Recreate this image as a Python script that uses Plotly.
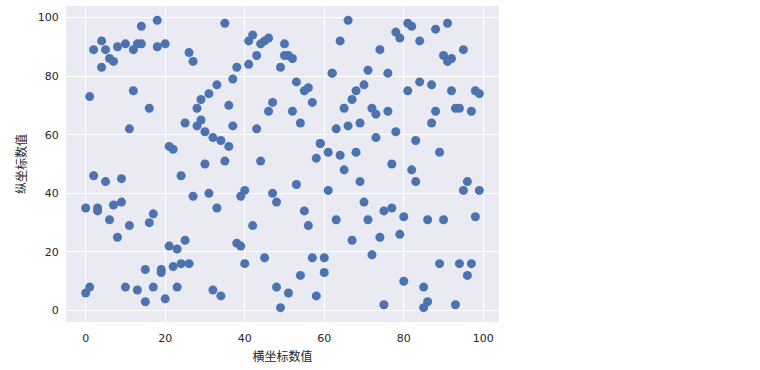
import plotly.graph_objects as go

x_values = list(range(100))
y_first = [35, 73, 89, 35, 92, 89, 86, 85, 90, 45,
           91, 62, 89, 91, 97, 14, 69, 33, 99, 14,
           91, 56, 55, 21, 46, 64, 88, 85, 69, 72,
           61, 74, 59, 77, 58, 98, 70, 79, 83, 39,
           41, 92, 94, 87, 91, 92, 93, 71, 37, 83,
           91, 87, 86, 78, 64, 75, 76, 71, 52, 57,
           18, 54, 81, 62, 92, 69, 99, 72, 75, 64,
           77, 82, 69, 67, 89, 34, 81, 50, 95, 93,
           32, 98, 97, 58, 92, 8, 31, 77, 96, 54,
           87, 98, 86, 69, 69, 89, 44, 68, 75, 74]
y_second = [6, 8, 46, 34, 83, 44, 31, 36, 25, 37,
            8, 29, 75, 7, 91, 3, 30, 8, 90, 13,
            4, 22, 15, 8, 16, 24, 16, 39, 63, 65,
            50, 40, 7, 35, 5, 51, 56, 63, 23, 22,
            16, 84, 29, 62, 51, 18, 68, 40, 8, 1,
            87, 6, 68, 43, 12, 34, 29, 18, 5, 57,
            13, 41, 81, 31, 53, 48, 63, 24, 54, 44,
            37, 31, 19, 59, 25, 2, 68, 35, 61, 26,
            10, 75, 48, 44, 78, 1, 3, 64, 68, 16,
            31, 85, 75, 2, 16, 41, 12, 16, 32, 41]
x_ticks = [0, 20, 40, 60, 80, 100]
y_ticks = [0, 20, 40, 60, 80, 100]
x_title = "横坐标数值"
y_title = "纵坐标数值"

xs = x_values + x_values
ys = y_first + y_second

fig = go.Figure(go.Scatter(
    x=xs, y=ys, mode="markers",
    marker=dict(color="#4C72B0", size=9, line=dict(width=0)),
    hoverinfo="skip",
))

tick_font = dict(family="DejaVu Sans", size=11, color="#262626")
title_font = dict(family="Noto Sans CJK SC", size=12, color="#262626")

fig.update_layout(
    width=760, height=370,
    margin=dict(l=66, r=261, t=6, b=48),
    paper_bgcolor="white", plot_bgcolor="#EAEAF2",
    showlegend=False,
    xaxis=dict(range=[-4.95, 103.95], tickvals=x_ticks,
               showgrid=True, gridcolor="white", gridwidth=1,
               zeroline=False, showline=False,
               ticks="outside", ticklen=6, tickcolor="rgba(0,0,0,0)",
               tickfont=tick_font,
               title=dict(text=x_title, standoff=8, font=title_font)),
    yaxis=dict(range=[-3.9, 103.9], tickvals=y_ticks,
               showgrid=True, gridcolor="white", gridwidth=1,
               zeroline=False, showline=False,
               ticks="outside", ticklen=4, tickcolor="rgba(0,0,0,0)",
               tickfont=tick_font,
               title=dict(text=y_title, standoff=8, font=title_font)),
)

fig.write_html("out.html")
